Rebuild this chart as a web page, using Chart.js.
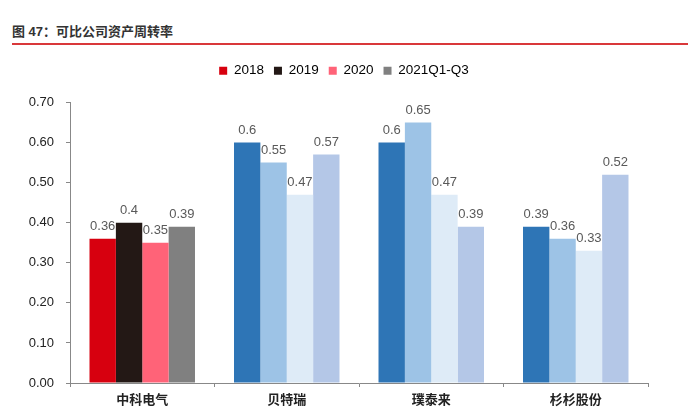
<!DOCTYPE html>
<html>
<head>
<meta charset="utf-8">
<script src="https://cdn.jsdelivr.net/npm/chart.js@4/dist/chart.umd.min.js"></script>
<style>
  html, body { margin: 0; padding: 0; background: #fff; }
  #wrap { position: relative; width: 688px; height: 413px; }
  #title {
    position: absolute; left: 12px; top: 21px; right: 0;
    font: bold 13px "Liberation Sans", "Noto Sans CJK SC", sans-serif;
    color: #333; padding-bottom: 3px; border-bottom: 2px solid #d9383a;
  }
  canvas { position: absolute; left: 0; top: 0; }
</style>
</head>
<body>
<div id="wrap">
  <div id="title">图 47：可比公司资产周转率</div>
  <canvas id="c" width="688" height="413"></canvas>
</div>
<script>
const categories = ['中科电气', '贝特瑞', '璞泰来', '杉杉股份'];
const seriesNames = ['2018', '2019', '2020', '2021Q1-Q3'];
const v2018 = [0.36, 0.6, 0.6, 0.39];
const v2019 = [0.4, 0.55, 0.65, 0.36];
const v2020 = [0.35, 0.47, 0.47, 0.33];
const v2021 = [0.39, 0.57, 0.39, 0.52];
const yTicks = [0, 0.1, 0.2, 0.3, 0.4, 0.5, 0.6, 0.7];

// first company keeps the legend colours, the others are drawn in blues
const legendColors = ['#d7000f', '#231815', '#ff6378', '#808080'];
const blueColors = ['#2e75b6', '#9dc3e6', '#deebf7', '#b4c7e7'];

const FONT = '"Liberation Sans", "Noto Sans CJK SC", sans-serif';

const valueLabels = {
  id: 'valueLabels',
  afterDatasetsDraw(chart) {
    const ctx = chart.ctx;
    ctx.save();
    ctx.font = '13px ' + FONT;
    ctx.fillStyle = '#595959';
    ctx.textAlign = 'center';
    ctx.textBaseline = 'bottom';
    chart.data.datasets.forEach((ds, i) => {
      chart.getDatasetMeta(i).data.forEach((bar, j) => {
        ctx.fillText(String(ds.data[j]), bar.x, bar.y - 6);
      });
    });
    ctx.restore();
  }
};

// extra room under the legend, and centre it on the whole canvas
const legendGap = {
  id: 'legendGap',
  beforeInit(chart) {
    const fit = chart.legend.fit;
    chart.legend.fit = function () {
      fit.call(this);
      this.height += 15;
    };
  },
  afterLayout(chart) {
    const lg = chart.legend;
    lg.left = 0;
    lg.right = chart.width;
    lg.width = chart.width;
  }
};

const allValues = [v2018, v2019, v2020, v2021];

new Chart(document.getElementById('c'), {
  type: 'bar',
  data: {
    labels: categories,
    datasets: seriesNames.map((name, i) => ({
      label: name,
      data: allValues[i],
      backgroundColor: categories.map((_, j) => j === 0 ? legendColors[i] : blueColors[i]),
      borderWidth: 0,
      barPercentage: 1,
      categoryPercentage: 0.73,
    })),
  },
  options: {
    responsive: false,
    animation: false,
    layout: { padding: { top: 54, right: 40, left: 0, bottom: 0 } },
    plugins: {
      legend: {
        position: 'top',
        labels: {
          boxWidth: 8,
          boxHeight: 8,
          padding: 10,
          color: '#222',
          font: { size: 13.5, family: FONT },
          generateLabels: () => seriesNames.map((name, i) => ({
            text: name,
            fillStyle: legendColors[i],
            strokeStyle: legendColors[i],
            lineWidth: 0,
            datasetIndex: i,
          })),
        },
      },
      tooltip: { enabled: false },
    },
    scales: {
      x: {
        afterFit: (scale) => { scale.height = 30; },
        grid: {
          display: true,
          drawOnChartArea: false,
          offset: true,
          tickLength: 4,
          color: '#888',
        },
        border: { color: '#888' },
        ticks: {
          color: '#222',
          padding: 6,
          font: { size: 13, family: FONT, weight: 'bold' },
        },
      },
      y: {
        min: 0,
        max: 0.7,
        afterBuildTicks: (scale) => { scale.ticks = yTicks.map(v => ({ value: v })); },
        afterFit: (scale) => { scale.width = 70; },
        grid: {
          display: true,
          drawOnChartArea: false,
          tickLength: 4,
          color: '#888',
        },
        border: { color: '#888' },
        ticks: {
          color: '#222',
          padding: 12,
          font: { size: 13, family: FONT },
          callback: (v) => Number(v).toFixed(2),
        },
      },
    },
  },
  plugins: [valueLabels, legendGap],
});
</script>
</body>
</html>
